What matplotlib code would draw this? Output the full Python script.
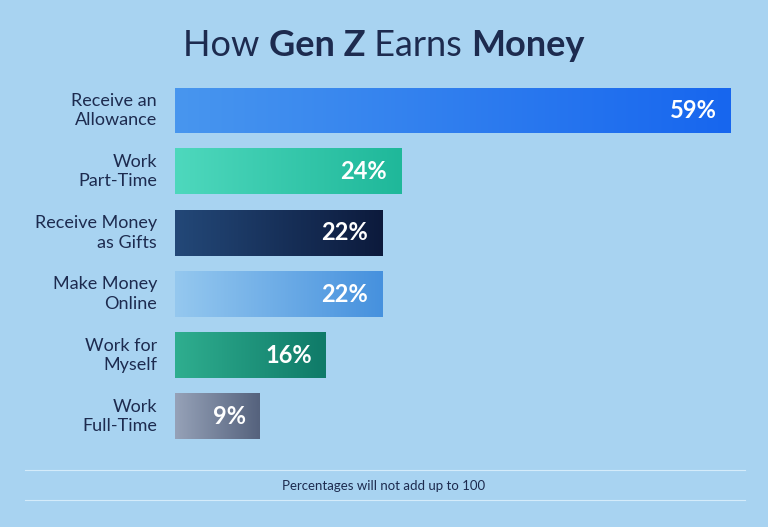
import matplotlib
matplotlib.use("Agg")
import matplotlib.pyplot as plt
import numpy as np
from matplotlib.colors import LinearSegmentedColormap

plt.rcParams["font.family"] = ["Lato", "DejaVu Sans"]

BG = "#a8d3f1"
INK = "#1d2b4f"

categories = ["Receive an\nAllowance", "Work\nPart-Time", "Receive Money\nas Gifts",
              "Make Money\nOnline", "Work for\nMyself", "Work\nFull-Time"]
values = [59, 24, 22, 22, 16, 9]
gradients = [("#4896ee", "#1766ef"), ("#4ed8bd", "#1fb89a"), ("#234878", "#0c1a3c"),
             ("#95c8ef", "#4691de"), ("#2fae8f", "#0f7a68"), ("#96a2b8", "#55627d")]
title_parts = [("How ", "normal"), ("Gen Z", "bold"), (" Earns ", "normal"), ("Money", "bold")]

fig = plt.figure(figsize=(7.68, 5.27), dpi=100)
fig.patch.set_facecolor(BG)
ax = fig.add_axes([175 / 768, 1 - 439 / 527, 556 / 768, 351 / 527])
ax.patch.set_alpha(0)

h = 0.74
grad = np.linspace(0, 1, 256).reshape(1, -1)
for i, (v, (c0, c1)) in enumerate(zip(values, gradients)):
    cmap = LinearSegmentedColormap.from_list(f"g{i}", [c0, c1])
    ax.imshow(grad, cmap=cmap, aspect="auto", extent=(0, v, i + h / 2, i - h / 2), zorder=2)
    ax.text(v - 1.5, i, f"{v}%", ha="right", va="center", color="white",
            fontsize=17, fontweight="bold", zorder=3)
    ax.text(-1.9, i, categories[i], ha="right", va="center", color=INK,
            fontsize=13, linespacing=1.25)

ax.set_xlim(0, 59)
ax.set_ylim(len(values) - 1 + h / 2, -h / 2)
ax.axis("off")

# title built from pieces so bold words use the same family
renderer = fig.canvas.get_renderer()
pieces = []
x = 0.0
for txt, w in title_parts:
    t = fig.text(x, 1 - 45 / 527, txt, ha="left", va="center", fontsize=26,
                 fontweight=w, color=INK)
    bb = t.get_window_extent(renderer)
    pieces.append(t)
    x += bb.width / fig.bbox.width
start = 0.5 - x / 2
for t in pieces:
    px, py = t.get_position()
    t.set_position((px + start, py))

for yy in (470, 500):
    fig.add_artist(plt.Line2D([25 / 768, 745 / 768], [1 - yy / 527] * 2, color="#d4ebfa", lw=0.8))
fig.text(0.5, 1 - 486 / 527, "Percentages will not add up to 100", ha="center", va="center",
         fontsize=9.5, color=INK)

fig.savefig("out.png", dpi=100, facecolor=BG)
